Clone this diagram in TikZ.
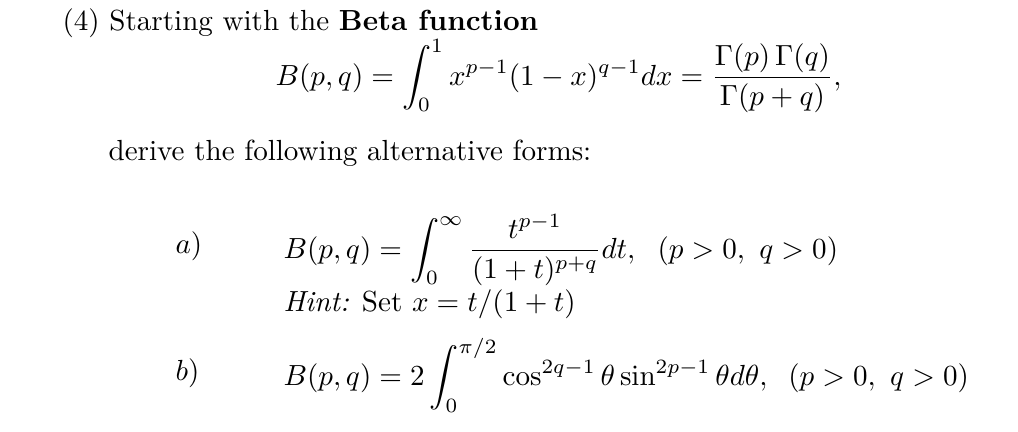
\documentclass[tikz,border=0pt]{standalone}
\usepackage{amsmath}
\begin{document}
\begin{tikzpicture}[x=0.01209cm,y=-0.01209cm,txt/.style={anchor=base west,inner sep=0pt}, eq/.style={anchor=west,inner sep=0pt}]
\useasboundingbox (0,0) rectangle (1018,432);
\node[txt] (t1) at (62,31) {(4) Starting with the \textbf{Beta function}};
\node[eq] (e1) at (275,76) {$\displaystyle B(p,q)=\int_0^1 x^{p-1}(1-x)^{q-1}dx=\frac{\Gamma(p)\,\Gamma(q)}{\Gamma(p+q)},$};
\node[txt] (t2) at (108,161) {derive the following alternative forms:};
\node[eq] (la) at (175,246) {$a)$};
\node[eq] (ea) at (283,250) {$\displaystyle B(p,q)=\int_0^\infty \frac{t^{p-1}}{(1+t)^{p+q}}dt,\hspace{0.6em} (p>0,\ q>0)$};
\node[txt] (h) at (283,312) {\textit{Hint:} Set $x=t/(1+t)$};
\node[eq] (lb) at (175,373) {$b)$};
\node[eq] (eb) at (283,375) {$\displaystyle B(p,q)=2\int_0^{\pi/2}\cos^{2q-1}\theta\sin^{2p-1}\theta d\theta,\hspace{0.55em} (p>0,\ q>0)$};
\end{tikzpicture}
\end{document}
